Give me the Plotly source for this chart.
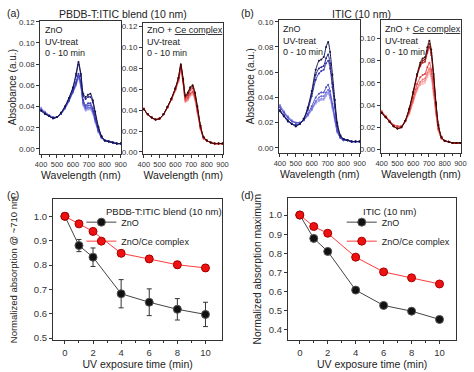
import plotly.graph_objects as go

# ---------------- data ----------------
TIMES = [0, 1, 2, 4, 6, 8, 10]

WL_BLEND = [400, 425, 450, 475, 500, 525, 550, 575, 600, 620, 635, 650, 665, 680, 695, 710, 725, 740, 760, 780, 800, 825, 850, 875, 900]
WL_ITIC = [400, 425, 450, 475, 500, 525, 550, 575, 600, 625, 645, 660, 675, 690, 703, 715, 730, 745, 760, 780, 800, 825, 850, 875, 900]

# (a) PBDB-T:ITIC blend on ZnO, 0..10 min
BLEND_ZNO_T0 = [0.036, 0.033, 0.031, 0.029, 0.030, 0.034, 0.040, 0.048, 0.058, 0.071, 0.082, 0.071, 0.052, 0.049, 0.051, 0.052, 0.046, 0.035, 0.021, 0.012, 0.008, 0.007, 0.006, 0.005, 0.005]
BLEND_ZNO_T1 = [0.036, 0.033, 0.031, 0.029, 0.030, 0.034, 0.040, 0.048, 0.057, 0.069, 0.080, 0.069, 0.050, 0.047, 0.049, 0.049, 0.044, 0.033, 0.020, 0.012, 0.008, 0.007, 0.006, 0.005, 0.005]
BLEND_ZNO_T2 = [0.037, 0.034, 0.031, 0.029, 0.030, 0.033, 0.039, 0.046, 0.055, 0.063, 0.071, 0.063, 0.046, 0.041, 0.043, 0.043, 0.038, 0.029, 0.018, 0.011, 0.008, 0.007, 0.006, 0.005, 0.005]
BLEND_ZNO_T4 = [0.037, 0.034, 0.031, 0.029, 0.030, 0.033, 0.039, 0.046, 0.054, 0.062, 0.069, 0.061, 0.044, 0.039, 0.041, 0.041, 0.036, 0.028, 0.017, 0.011, 0.008, 0.007, 0.006, 0.005, 0.005]
BLEND_ZNO_T6 = [0.038, 0.034, 0.032, 0.030, 0.030, 0.033, 0.038, 0.045, 0.054, 0.061, 0.068, 0.060, 0.043, 0.038, 0.039, 0.039, 0.035, 0.027, 0.017, 0.011, 0.008, 0.007, 0.006, 0.005, 0.005]
BLEND_ZNO_T8 = [0.038, 0.035, 0.032, 0.030, 0.030, 0.033, 0.038, 0.045, 0.053, 0.060, 0.067, 0.059, 0.042, 0.037, 0.038, 0.038, 0.034, 0.026, 0.016, 0.010, 0.008, 0.007, 0.006, 0.005, 0.005]
BLEND_ZNO_T10 = [0.039, 0.035, 0.032, 0.030, 0.030, 0.033, 0.038, 0.045, 0.053, 0.060, 0.066, 0.058, 0.041, 0.036, 0.037, 0.037, 0.033, 0.025, 0.016, 0.010, 0.008, 0.007, 0.006, 0.005, 0.005]

# (a) PBDB-T:ITIC blend on ZnO + Ce complex
BLEND_CE_T0 = [0.041, 0.036, 0.033, 0.031, 0.032, 0.036, 0.043, 0.051, 0.061, 0.071, 0.084, 0.070, 0.054, 0.057, 0.062, 0.064, 0.057, 0.044, 0.025, 0.014, 0.011, 0.009, 0.008, 0.008, 0.008]
BLEND_CE_T1 = [0.041, 0.036, 0.033, 0.031, 0.032, 0.036, 0.043, 0.051, 0.061, 0.071, 0.083, 0.069, 0.053, 0.056, 0.061, 0.063, 0.056, 0.043, 0.025, 0.014, 0.011, 0.009, 0.008, 0.008, 0.008]
BLEND_CE_T2 = [0.041, 0.036, 0.033, 0.031, 0.032, 0.036, 0.043, 0.051, 0.060, 0.070, 0.082, 0.068, 0.052, 0.054, 0.059, 0.061, 0.054, 0.042, 0.024, 0.014, 0.011, 0.009, 0.008, 0.008, 0.008]
BLEND_CE_T4 = [0.041, 0.036, 0.033, 0.031, 0.032, 0.036, 0.043, 0.050, 0.060, 0.069, 0.080, 0.067, 0.050, 0.052, 0.056, 0.058, 0.052, 0.040, 0.023, 0.013, 0.011, 0.009, 0.008, 0.008, 0.008]
BLEND_CE_T6 = [0.041, 0.036, 0.033, 0.031, 0.032, 0.036, 0.043, 0.050, 0.059, 0.068, 0.079, 0.066, 0.049, 0.051, 0.055, 0.057, 0.051, 0.039, 0.023, 0.013, 0.011, 0.009, 0.008, 0.008, 0.008]
BLEND_CE_T8 = [0.042, 0.036, 0.033, 0.031, 0.032, 0.036, 0.042, 0.050, 0.059, 0.068, 0.078, 0.065, 0.048, 0.050, 0.054, 0.056, 0.050, 0.038, 0.022, 0.013, 0.011, 0.009, 0.008, 0.008, 0.008]
BLEND_CE_T10 = [0.042, 0.036, 0.033, 0.031, 0.032, 0.036, 0.042, 0.050, 0.058, 0.067, 0.078, 0.065, 0.048, 0.049, 0.053, 0.055, 0.049, 0.037, 0.022, 0.013, 0.011, 0.009, 0.008, 0.008, 0.008]

# (b) ITIC on ZnO
ITIC_ZNO_T0 = [0.029, 0.025, 0.021, 0.019, 0.017, 0.019, 0.023, 0.032, 0.045, 0.062, 0.069, 0.070, 0.072, 0.080, 0.084, 0.076, 0.058, 0.038, 0.020, 0.010, 0.007, 0.006, 0.005, 0.005, 0.005]
ITIC_ZNO_T1 = [0.030, 0.025, 0.022, 0.019, 0.018, 0.019, 0.023, 0.031, 0.043, 0.058, 0.063, 0.064, 0.065, 0.071, 0.074, 0.067, 0.051, 0.034, 0.018, 0.009, 0.007, 0.006, 0.005, 0.005, 0.005]
ITIC_ZNO_T2 = [0.030, 0.026, 0.022, 0.019, 0.018, 0.019, 0.023, 0.030, 0.041, 0.054, 0.059, 0.061, 0.062, 0.067, 0.069, 0.063, 0.048, 0.032, 0.017, 0.009, 0.007, 0.006, 0.005, 0.005, 0.005]
ITIC_ZNO_T4 = [0.032, 0.028, 0.024, 0.021, 0.020, 0.020, 0.022, 0.027, 0.033, 0.040, 0.043, 0.044, 0.044, 0.048, 0.050, 0.045, 0.035, 0.024, 0.014, 0.008, 0.006, 0.006, 0.005, 0.005, 0.005]
ITIC_ZNO_T6 = [0.033, 0.028, 0.024, 0.021, 0.020, 0.020, 0.022, 0.026, 0.031, 0.037, 0.040, 0.041, 0.041, 0.044, 0.046, 0.042, 0.033, 0.023, 0.013, 0.008, 0.006, 0.006, 0.005, 0.005, 0.005]
ITIC_ZNO_T8 = [0.034, 0.029, 0.025, 0.022, 0.020, 0.020, 0.022, 0.026, 0.030, 0.036, 0.038, 0.039, 0.039, 0.042, 0.044, 0.040, 0.032, 0.022, 0.013, 0.008, 0.006, 0.006, 0.005, 0.005, 0.005]
ITIC_ZNO_T10 = [0.034, 0.029, 0.025, 0.022, 0.020, 0.020, 0.022, 0.025, 0.030, 0.035, 0.037, 0.038, 0.038, 0.041, 0.043, 0.039, 0.031, 0.021, 0.012, 0.008, 0.006, 0.006, 0.005, 0.005, 0.005]

# (b) ITIC on ZnO + Ce complex
ITIC_CE_T0 = [0.033, 0.029, 0.025, 0.021, 0.019, 0.020, 0.026, 0.037, 0.052, 0.068, 0.078, 0.082, 0.083, 0.092, 0.098, 0.090, 0.068, 0.042, 0.022, 0.011, 0.008, 0.007, 0.006, 0.006, 0.006]
ITIC_CE_T1 = [0.033, 0.029, 0.025, 0.021, 0.019, 0.020, 0.026, 0.036, 0.051, 0.067, 0.076, 0.080, 0.081, 0.089, 0.095, 0.087, 0.066, 0.041, 0.022, 0.011, 0.008, 0.007, 0.006, 0.006, 0.006]
ITIC_CE_T2 = [0.033, 0.029, 0.025, 0.021, 0.019, 0.020, 0.026, 0.036, 0.050, 0.066, 0.075, 0.078, 0.079, 0.087, 0.092, 0.085, 0.064, 0.040, 0.021, 0.011, 0.008, 0.007, 0.006, 0.006, 0.006]
ITIC_CE_T4 = [0.034, 0.030, 0.026, 0.022, 0.021, 0.021, 0.026, 0.034, 0.046, 0.059, 0.065, 0.067, 0.068, 0.074, 0.078, 0.072, 0.055, 0.035, 0.019, 0.010, 0.008, 0.007, 0.006, 0.006, 0.006]
ITIC_CE_T6 = [0.034, 0.030, 0.026, 0.022, 0.021, 0.021, 0.026, 0.033, 0.044, 0.055, 0.061, 0.063, 0.064, 0.069, 0.073, 0.068, 0.052, 0.033, 0.018, 0.010, 0.008, 0.007, 0.006, 0.006, 0.006]
ITIC_CE_T8 = [0.035, 0.030, 0.026, 0.022, 0.021, 0.021, 0.025, 0.032, 0.043, 0.054, 0.059, 0.061, 0.062, 0.067, 0.071, 0.066, 0.050, 0.032, 0.018, 0.010, 0.008, 0.007, 0.006, 0.006, 0.006]
ITIC_CE_T10 = [0.035, 0.030, 0.026, 0.022, 0.021, 0.021, 0.025, 0.032, 0.042, 0.053, 0.058, 0.059, 0.060, 0.065, 0.069, 0.064, 0.049, 0.031, 0.017, 0.010, 0.008, 0.007, 0.006, 0.006, 0.006]

# (c) normalized absorption @ ~710 nm (blend)
EXPO_TIME = [0, 1, 2, 4, 6, 8, 10]
C_ZNO = [1.000, 0.880, 0.832, 0.682, 0.647, 0.618, 0.597]
C_ZNO_ERR = [0.0, 0.025, 0.038, 0.058, 0.055, 0.044, 0.050]
C_CE = [1.000, 0.969, 0.938, 0.848, 0.825, 0.801, 0.788]
C_CE_ERR = [0.0, 0.012, 0.012, 0.012, 0.014, 0.014, 0.014]

# (d) normalized absorption maximum (ITIC)
D_ZNO = [1.000, 0.878, 0.810, 0.608, 0.528, 0.498, 0.455]
D_CE = [1.000, 0.940, 0.905, 0.780, 0.703, 0.672, 0.640]

BLUES = ['#14144a', '#2a2a8c', '#3838b0', '#5050c8', '#7070da', '#9494e8', '#b4b4f2']
REDS = ['#3a0808', '#8a1414', '#c42020', '#e04444', '#f07272', '#f79a9a', '#fbbcbc']

# ---------------- layout helpers ----------------
W, H = 474, 372
FONT = 'Liberation Sans, Arial, sans-serif'
TXT = '#222222'


def dx(a, b):
    return [a / W, b / W]


def dy(top, bottom):
    return [1 - bottom / H, 1 - top / H]


fig = go.Figure()

spectra = [
    (WL_BLEND, [BLEND_ZNO_T0, BLEND_ZNO_T1, BLEND_ZNO_T2, BLEND_ZNO_T4, BLEND_ZNO_T6, BLEND_ZNO_T8, BLEND_ZNO_T10], BLUES, 'x', 'y'),
    (WL_BLEND, [BLEND_CE_T0, BLEND_CE_T1, BLEND_CE_T2, BLEND_CE_T4, BLEND_CE_T6, BLEND_CE_T8, BLEND_CE_T10], REDS, 'x2', 'y2'),
    (WL_ITIC, [ITIC_ZNO_T0, ITIC_ZNO_T1, ITIC_ZNO_T2, ITIC_ZNO_T4, ITIC_ZNO_T6, ITIC_ZNO_T8, ITIC_ZNO_T10], BLUES, 'x3', 'y3'),
    (WL_ITIC, [ITIC_CE_T0, ITIC_CE_T1, ITIC_CE_T2, ITIC_CE_T4, ITIC_CE_T6, ITIC_CE_T8, ITIC_CE_T10], REDS, 'x4', 'y4'),
]
for wl, curves, cols, xa, ya in spectra:
    for i in reversed(range(len(curves))):
        fig.add_trace(go.Scatter(x=wl, y=curves[i], mode='lines+markers',
                                 line=dict(color=cols[i], width=1, shape='spline', smoothing=0.6),
                                 marker=dict(size=2, color=cols[i]),
                                 xaxis=xa, yaxis=ya, showlegend=False,
                                 name=f'{TIMES[i]} min'))

# (c)
fig.add_trace(go.Scatter(x=EXPO_TIME, y=C_ZNO, mode='lines+markers', name='ZnO',
                         line=dict(color='#444444', width=1),
                         marker=dict(size=8, color='#111111', line=dict(color='#555555', width=1)),
                         error_y=dict(type='data', array=C_ZNO_ERR, color='#333333', thickness=1, width=2.5),
                         xaxis='x5', yaxis='y5', legend='legend'))
fig.add_trace(go.Scatter(x=EXPO_TIME, y=C_CE, mode='lines+markers', name='ZnO/Ce complex',
                         line=dict(color='#ff3b3b', width=1),
                         marker=dict(size=8, color='#ee1111', line=dict(color='#aa0000', width=1)),
                         error_y=dict(type='data', array=C_CE_ERR, color='#333333', thickness=1, width=2.5),
                         xaxis='x5', yaxis='y5', legend='legend'))
# (d)
fig.add_trace(go.Scatter(x=EXPO_TIME, y=D_ZNO, mode='lines+markers', name='ZnO',
                         line=dict(color='#444444', width=1),
                         marker=dict(size=8, color='#111111', line=dict(color='#555555', width=1)),
                         xaxis='x6', yaxis='y6', legend='legend2'))
fig.add_trace(go.Scatter(x=EXPO_TIME, y=D_CE, mode='lines+markers', name='ZnO/Ce complex',
                         line=dict(color='#ff3b3b', width=1),
                         marker=dict(size=8, color='#ee1111', line=dict(color='#aa0000', width=1)),
                         xaxis='x6', yaxis='y6', legend='legend2'))

axcommon = dict(showline=True, mirror=True, linecolor='#333333', linewidth=1,
                ticks='outside', ticklen=3, tickcolor='#333333', showgrid=False, zeroline=False,
                tickfont=dict(size=8, color='#333333', family=FONT))

spec_x = dict(axcommon, range=[395, 905], tickvals=[400, 500, 600, 700, 800, 900], tickangle=0,
              tickfont=dict(size=7.5, color='#333333', family=FONT),
              minor=dict(ticks='outside', ticklen=2, tickvals=[450, 550, 650, 750, 850], tickcolor='#333333'),
              title=dict(text='Wavelength (nm)', font=dict(size=10.5, color=TXT, family=FONT), standoff=1))


def spec_ytitle(st):
    return dict(text='Absobance (a.u.)', font=dict(size=10, color=TXT, family=FONT), standoff=st)


tfont = dict(size=9.5, color='#333333', family=FONT)
time_x = dict(axcommon, range=[-0.85, 11.2], tickvals=[0, 2, 4, 6, 8, 10], tickangle=0, tickfont=tfont,
              minor=dict(ticks='outside', ticklen=2, tickvals=[1, 3, 5, 7, 9], tickcolor='#333333'),
              title=dict(text='UV exposure time (min)', font=dict(size=10.5, color=TXT, family=FONT), standoff=0))

layout = dict(
    width=W, height=H, margin=dict(l=0, r=0, t=0, b=0),
    paper_bgcolor='white', plot_bgcolor='white',
    font=dict(family=FONT, color=TXT),
    xaxis=dict(spec_x, domain=dx(36, 119), anchor='y'),
    yaxis=dict(axcommon, domain=dy(18, 153), anchor='x', range=[-0.0044, 0.121], dtick=0.02, tickformat='.2f', title=spec_ytitle(0)),
    xaxis2=dict(spec_x, domain=dx(141, 223), anchor='y2'),
    yaxis2=dict(axcommon, domain=dy(20, 153), anchor='x2', range=[-0.0015, 0.1238], dtick=0.02, tickformat='.2f'),
    xaxis3=dict(spec_x, domain=dx(280, 363), anchor='y3'),
    yaxis3=dict(axcommon, domain=dy(17, 152), anchor='x3', range=[-0.0037, 0.1016], dtick=0.02, tickformat='.2f', title=spec_ytitle(1)),
    xaxis4=dict(spec_x, domain=dx(384, 466), anchor='y4'),
    yaxis4=dict(axcommon, domain=dy(17, 152), anchor='x4', range=[-0.0027, 0.1168], dtick=0.02, tickformat='.2f'),
    xaxis5=dict(time_x, domain=dx(49, 222), anchor='y5'),
    yaxis5=dict(axcommon, domain=dy(199, 343), anchor='x5', range=[0.49, 1.072], dtick=0.1, tickformat='.1f', tickfont=tfont,
                title=dict(text='Normalized absorption @ ~710 nm', font=dict(size=9.5, color=TXT, family=FONT), standoff=14)),
    xaxis6=dict(time_x, domain=dx(289, 461), anchor='y6'),
    yaxis6=dict(axcommon, domain=dy(198, 343), anchor='x6', range=[0.345, 1.09], dtick=0.1, tickformat='.1f', tickfont=tfont,
                title=dict(text='Normalized absorption maximum', font=dict(size=10.3, color=TXT, family=FONT), standoff=5)),
    legend=dict(x=78 / W, y=1 - 208 / H, xanchor='left', yanchor='top', bgcolor='rgba(0,0,0,0)',
                font=dict(size=9, color=TXT, family=FONT), itemwidth=30, tracegroupgap=0),
    legend2=dict(x=344 / W, y=1 - 208 / H, xanchor='left', yanchor='top', bgcolor='rgba(0,0,0,0)',
                 font=dict(size=9, color=TXT, family=FONT), itemwidth=30, tracegroupgap=0),
)
fig.update_layout(**layout)

ann = []


def txt(x, y, s, size=9, xanchor='left', yanchor='top', align='left'):
    ann.append(dict(x=x / W, y=1 - y / H, xref='paper', yref='paper', text=s, showarrow=False,
                    xanchor=xanchor, yanchor=yanchor, align=align,
                    font=dict(size=size, color=TXT, family=FONT)))


txt(0, 2, '(a)', size=10.5)
txt(239, 2, '(b)', size=10.5)
txt(0, 187, '(c)', size=10.5)
txt(239, 187, '(d)', size=10.5)
txt(121, 3, 'PBDB-T:ITIC blend (10 nm)', size=10.5, xanchor='center')
txt(364, 3, 'ITIC (10 nm)', size=10.5, xanchor='center')
txt(101, 204, 'PBDB-T:ITIC blend (10 nm)', size=9.5)
txt(364, 204, 'ITIC (10 nm)', size=9.5)
inner = '<br>UV-treat<br>0 - 10 min'
txt(39, 20, 'ZnO' + inner, size=9)
txt(143, 20, 'ZnO + <u>Ce complex</u>' + inner, size=9)
txt(282, 19, 'ZnO' + inner, size=9)
txt(386, 19, 'ZnO + <u>Ce complex</u>' + inner, size=9)
fig.update_layout(annotations=ann)

fig.write_html('out.html', config={'displayModeBar': False},
               post_script="document.body.style.margin='0px';document.body.style.overflow='hidden';")
